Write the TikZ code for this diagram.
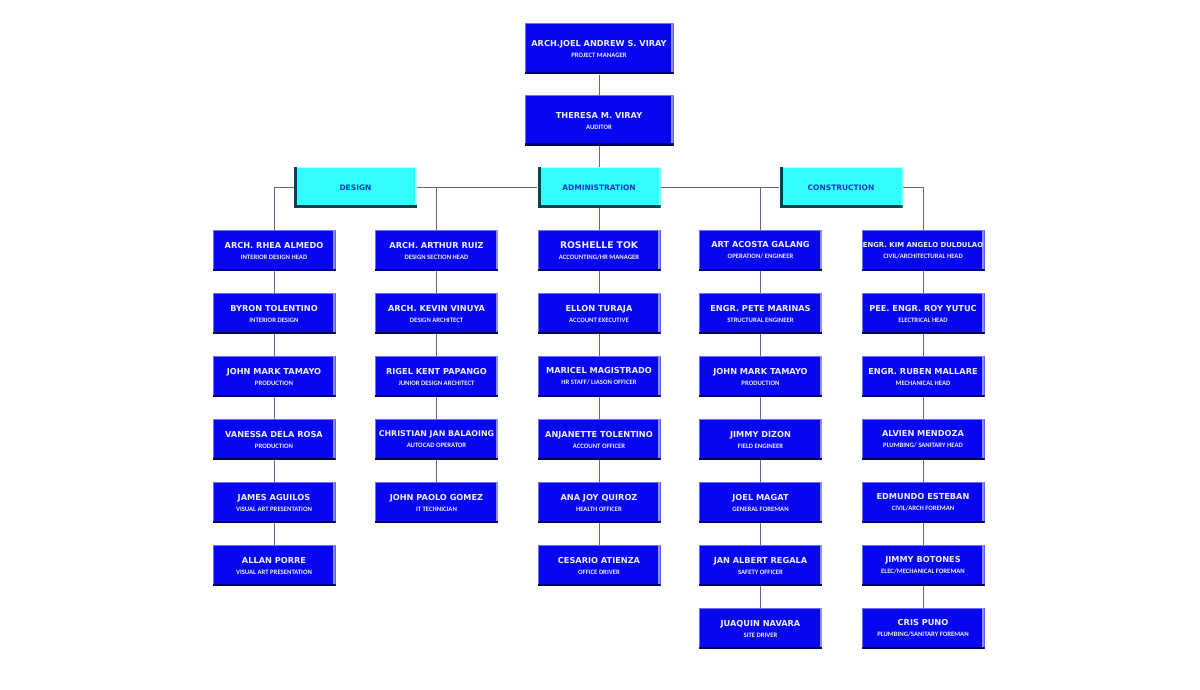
\documentclass[tikz,border=0pt]{standalone}
\usepackage{fontspec}
\newfontfamily\namef{DejaVu Sans}
\newfontfamily\subf{Carlito}
\definecolor{boxblue}{RGB}{6,6,240}
\definecolor{bevdark}{RGB}{0,0,95}
\definecolor{bevlight}{RGB}{140,140,255}
\definecolor{bevtop}{RGB}{110,110,250}
\definecolor{deptcyan}{RGB}{51,255,255}
\definecolor{deptdark}{RGB}{0,70,75}
\definecolor{deptlight}{RGB}{185,255,255}
\definecolor{depttext}{RGB}{25,55,190}
\definecolor{conncol}{RGB}{100,100,145}
\definecolor{nametext}{RGB}{238,238,255}
\newcommand\pers[2]{{\namef\bfseries\fontsize{8.2}{9}\selectfont #1}\\{\subf\bfseries\fontsize{6.7}{7}\selectfont #2}}
\tikzset{
  person/.style={rectangle, minimum width=123pt, minimum height=41pt, inner sep=0pt,
    fill=boxblue, text=nametext, align=center, font=\fontsize{8}{11}\selectfont,
    path picture={
      \fill[bevtop] (path picture bounding box.north west) rectangle ([yshift=-1pt]path picture bounding box.north east);
      \fill[bevtop] (path picture bounding box.north west) rectangle ([xshift=1pt]path picture bounding box.south west);
      \fill[bevlight] ([xshift=-2.5pt]path picture bounding box.north east) rectangle (path picture bounding box.south east);
      \fill[bevdark] (path picture bounding box.south west) rectangle ([yshift=2.5pt]path picture bounding box.south east);
    }},
  topbox/.style={person, minimum width=149pt, minimum height=51pt},
  dept/.style={rectangle, minimum width=123pt, minimum height=41pt, inner sep=0pt,
    fill=deptcyan, text=depttext, align=center, font=\namef\bfseries\fontsize{7.5}{9}\selectfont,
    path picture={
      \fill[deptlight] (path picture bounding box.north west) rectangle ([yshift=-1.5pt]path picture bounding box.north east);
      \fill[deptlight] ([xshift=-2pt]path picture bounding box.north east) rectangle (path picture bounding box.south east);
      \fill[deptdark] (path picture bounding box.north west) rectangle ([xshift=3pt]path picture bounding box.south west);
      \fill[deptdark] (path picture bounding box.south west) rectangle ([yshift=3pt]path picture bounding box.south east);
    }},
  conn/.style={draw=conncol, line width=1pt}
}
\begin{document}
\begin{tikzpicture}[x=1pt,y=-1pt]
\useasboundingbox[fill=white] (0,0) rectangle (1200,690);
% top
\node[topbox] (pm) at (599,49) {\pers{ARCH.JOEL ANDREW S. VIRAY}{PROJECT MANAGER}};
\node[topbox] (aud) at (599,120.5) {\pers{THERESA M. VIRAY}{AUDITOR}};
% departments
\node[dept] (design) at (355.5,187.5) {DESIGN};
\node[dept] (admin) at (599,187.5) {ADMINISTRATION};
\node[dept] (cons) at (841,187.5) {CONSTRUCTION};
% column 1
\node[person] (d1) at (274,250.5) {\pers{ARCH. RHEA ALMEDO}{INTERIOR DESIGN HEAD}};
\node[person] (d2) at (274,313.5) {\pers{BYRON TOLENTINO}{INTERIOR DESIGN}};
\node[person] (d3) at (274,376.5) {\pers{JOHN MARK TAMAYO}{PRODUCTION}};
\node[person] (d4) at (274,439.5) {\pers{VANESSA DELA ROSA}{PRODUCTION}};
\node[person] (d5) at (274,502.5) {\pers{JAMES AGUILOS}{VISUAL ART PRESENTATION}};
\node[person] (d6) at (274,565.5) {\pers{ALLAN PORRE}{VISUAL ART PRESENTATION}};
% column 2
\node[person] (e1) at (436.5,250.5) {\pers{ARCH. ARTHUR RUIZ}{DESIGN SECTION HEAD}};
\node[person] (e2) at (436.5,313.5) {\pers{ARCH. KEVIN VINUYA}{DESIGN ARCHITECT}};
\node[person] (e3) at (436.5,376.5) {\pers{RIGEL KENT PAPANGO}{JUNIOR DESIGN ARCHITECT}};
\node[person] (e4) at (436.5,439.5) {\pers{\fontsize{7.9}{9}\selectfont CHRISTIAN JAN BALAOING}{AUTOCAD OPERATOR}};
\node[person] (e5) at (436.5,502.5) {\pers{JOHN PAOLO GOMEZ}{IT TECHNICIAN}};
% column 3
\node[person] (a1) at (599,250.5) {\pers{\fontsize{9.2}{10}\selectfont ROSHELLE TOK}{ACCOUNTING/HR MANAGER}};
\node[person] (a2) at (599,313.5) {\pers{ELLON TURAJA}{ACCOUNT EXECUTIVE}};
\node[person] (a3) at (599,376.5) {\pers{MARICEL MAGISTRADO}{HR STAFF/ LIASON OFFICER}};
\node[person] (a4) at (599,439.5) {\pers{ANJANETTE TOLENTINO}{ACCOUNT OFFICER}};
\node[person] (a5) at (599,502.5) {\pers{ANA JOY QUIROZ}{HEALTH OFFICER}};
\node[person] (a6) at (599,565.5) {\pers{CESARIO ATIENZA}{OFFICE DRIVER}};
% column 4
\node[person] (k1) at (760.5,250.5) {\pers{ART ACOSTA GALANG}{OPERATION/ ENGINEER}};
\node[person] (k2) at (760.5,313.5) {\pers{ENGR. PETE MARINAS}{STRUCTURAL ENGINEER}};
\node[person] (k3) at (760.5,376.5) {\pers{JOHN MARK TAMAYO}{PRODUCTION}};
\node[person] (k4) at (760.5,439.5) {\pers{JIMMY DIZON}{FIELD ENGINEER}};
\node[person] (k5) at (760.5,502.5) {\pers{JOEL MAGAT}{GENERAL FOREMAN}};
\node[person] (k6) at (760.5,565.5) {\pers{JAN ALBERT REGALA}{SAFETY OFFICER}};
\node[person] (k7) at (760.5,628.5) {\pers{JUAQUIN NAVARA}{SITE DRIVER}};
% column 5
\node[person] (m1) at (923,250.5) {\pers{\fontsize{6.9}{9}\selectfont ENGR. KIM ANGELO DULDULAO}{CIVIL/ARCHITECTURAL HEAD}};
\node[person] (m2) at (923,313.5) {\pers{PEE. ENGR. ROY YUTUC}{ELECTRICAL HEAD}};
\node[person] (m3) at (923,376.5) {\pers{ENGR. RUBEN MALLARE}{MECHANICAL HEAD}};
\node[person] (m4) at (923,439.5) {\pers{ALVIEN MENDOZA}{PLUMBING/ SANITARY HEAD}};
\node[person] (m5) at (923,502.5) {\pers{EDMUNDO ESTEBAN}{CIVIL/ARCH FOREMAN}};
\node[person] (m6) at (923,565.5) {\pers{JIMMY BOTONES}{ELEC/MECHANICAL FOREMAN}};
\node[person] (m7) at (923,628.5) {\pers{CRIS PUNO}{PLUMBING/SANITARY FOREMAN}};
% connectors
\draw[conn] (pm) -- (aud);
\draw[conn] (aud) -- (admin);
\draw[conn] (design.west) -| (d1.north);
\draw[conn] (design.east) -- (admin.west);
\draw[conn] (e1.north) |- (design.east);
\draw[conn] (admin) -- (a1);
\draw[conn] (admin.east) -- (cons.west);
\draw[conn] (k1.north) |- (cons.west);
\draw[conn] (cons.east) -| (m1.north);
\foreach \a/\b in {d1/d2,d2/d3,d3/d4,d4/d5,d5/d6,
  e1/e2,e2/e3,e3/e4,e4/e5,
  a1/a2,a2/a3,a3/a4,a4/a5,a5/a6,
  k1/k2,k2/k3,k3/k4,k4/k5,k5/k6,k6/k7,
  m1/m2,m2/m3,m3/m4,m4/m5,m5/m6,m6/m7}
  \draw[conn] (\a) -- (\b);
\end{tikzpicture}
\end{document}
